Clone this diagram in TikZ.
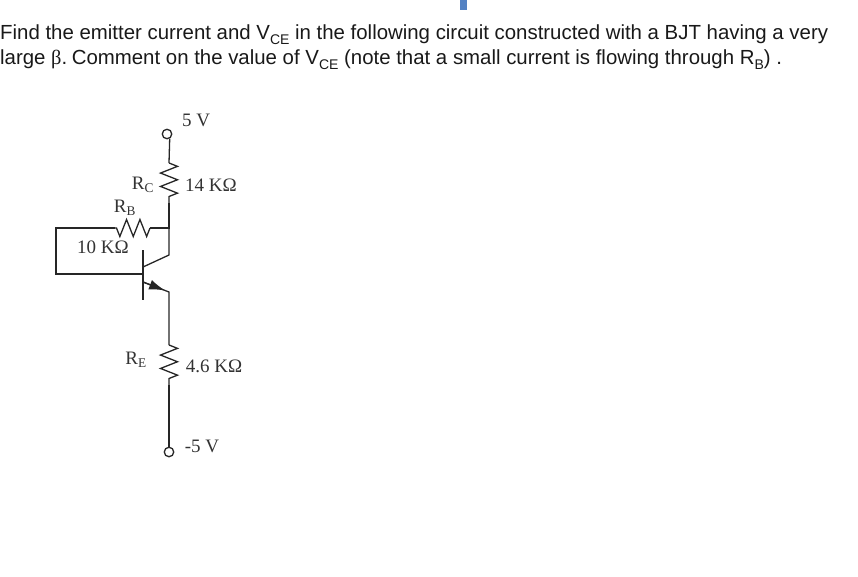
\documentclass[tikz,border=0pt]{standalone}
\usepackage{fontspec}
\setmainfont{Liberation Sans}
\newfontfamily\circuitfont{Liberation Serif}
\usetikzlibrary{arrows.meta, calc, decorations.pathmorphing}
\definecolor{tabblue}{RGB}{84,130,195}
\newcommand{\lowsub}[1]{\raisebox{-5pt}{\fontsize{14}{14}\selectfont #1}}

\begin{document}
\begin{tikzpicture}[x=1pt, y=-1pt,
    wire/.style={line width=1.3pt, black!85},
    resistor/.style={wire, decorate, decoration={zigzag, segment length=13.4pt, amplitude=8.5pt}},
    terminal/.style={circle, draw=black!85, fill=white, line width=1.3pt, minimum size=9.5pt, inner sep=0pt},
    statement/.style={anchor=base west, inner sep=0pt, font=\fontsize{20.4}{24}\selectfont, text=black!90},
    value/.style={inner sep=0pt, font=\circuitfont\fontsize{19}{22}\selectfont, text=black!80}]
    \useasboundingbox (0,0) rectangle (858,576);
    \fill[tabblue] (460,0) rectangle (467,10);

    % problem statement
    \node[statement] (line1) at (0,39) {Find the emitter current and V\lowsub{CE} in the following circuit constructed with a BJT having a very};
    \node[statement] (line2) at (0,64) {large {\circuitfont β}.\kern-3pt{} Comment on the value of V\lowsub{CE} (note that a small current is flowing through R\lowsub{B}) .};

    % points of the circuit
    \node[terminal] (vcc) at (167,134) {};
    \coordinate (rctop) at (169,163);
    \coordinate (rcbot) at (169,203);
    \coordinate (junction) at (169,228);
    \coordinate (rbright) at (150,228);
    \coordinate (rbleft) at (115,228);
    \coordinate (corner) at (56,228);
    \coordinate (corner2) at (56,274);
    \coordinate (base) at (143,274);
    \coordinate (bartop) at (143,250);
    \coordinate (barbot) at (143,300);
    \coordinate (colin) at (143,267);
    \coordinate (colout) at (169,255);
    \coordinate (emin) at (143,282);
    \coordinate (emout) at (169,292);
    \coordinate (retop) at (169,345);
    \coordinate (rebot) at (169,385);
    \node[terminal] (vee) at (169,452) {};

    % wires
    \draw[wire] (vcc.-60) -- (rctop);
    \draw[resistor] (rctop) -- (rcbot);
    \draw[wire] (rcbot) -- (junction) -- (rbright);
    \draw[resistor] (rbright) -- (rbleft);
    \draw[wire] (rbleft) -- (corner) -- (corner2) -- (base);
    \draw[wire] (junction) -- (colout) -- (colin);
    \draw[wire, line width=1.6pt] (bartop) -- (barbot);
    \draw[wire] (emin) -- (emout) -- (retop);
    \draw[resistor] (retop) -- (rebot);
    \draw[wire] (rebot) -- (vee);
    \draw[-{Latex[length=16pt, width=10pt]}, wire] (emin) -- ($(emin)!0.85!(emout)$);

    % labels
    \node[value] (vcclabel) at (196,120) {5 V};
    \node[value] (rclabel) at (143,185) {R\textsubscript{C}};
    \node[value] (rcvalue) at (211,185) {14 KΩ};
    \node[value] (rblabel) at (125,208) {R\textsubscript{B}};
    \node[value] (rbvalue) at (103,247) {10 KΩ};
    \node[value] (relabel) at (136,360) {R\textsubscript{E}};
    \node[value] (revalue) at (214,366) {4.6 KΩ};
    \node[value] (veelabel) at (202,446) {-5 V};
\end{tikzpicture}
\end{document}
